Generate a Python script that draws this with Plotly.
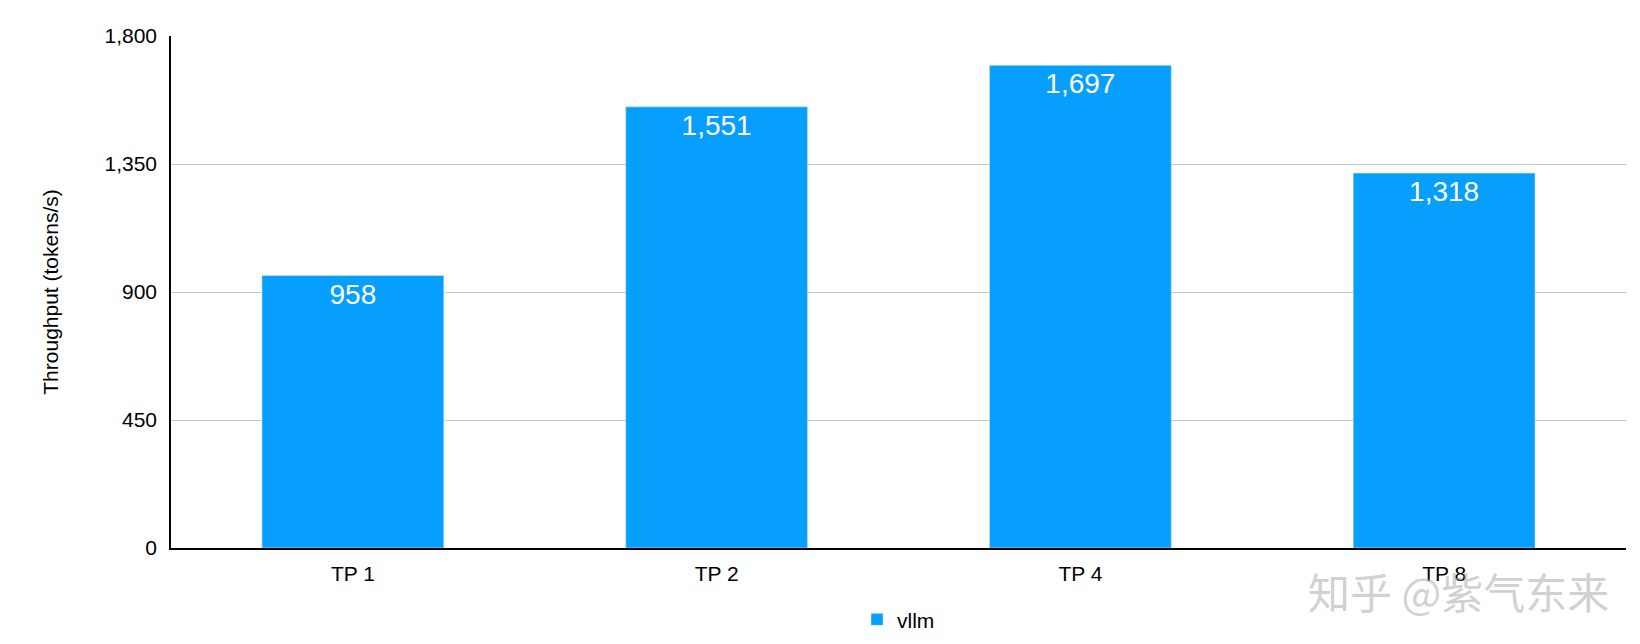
import plotly.graph_objects as go

categories = ["TP 1", "TP 2", "TP 4", "TP 8"]
values = [958, 1551, 1697, 1318]
tick_vals = [0, 450, 900, 1350, 1800]
tick_text = ["0", "450", "900", "1,350", "1,800"]

fig = go.Figure(go.Bar(
    x=categories, y=values, name="vllm", marker_color="#069FFD", width=0.5,
    text=[f"{v:,}" for v in values], textposition="inside", insidetextanchor="end",
    textfont=dict(color="white", size=28), showlegend=True,
))
fig.update_layout(
    width=1640, height=644, plot_bgcolor="white", paper_bgcolor="white",
    margin=dict(l=163, r=22, t=28, b=92),
    font=dict(family="Liberation Sans, Arial", size=21, color="black"),
    yaxis=dict(range=[0, 1800], tickvals=tick_vals, ticktext=tick_text,
               showgrid=True, gridcolor="#C8C8C8", showline=True, linecolor="black",
               linewidth=1.5, title=dict(text="Throughput (tokens/s)", font=dict(size=21), standoff=40),
               zeroline=False, ticks="outside", ticklen=8, tickcolor="white"),
    xaxis=dict(showline=True, linecolor="black", linewidth=1.5, ticks="outside", ticklen=6, tickcolor="white"),
    legend=dict(orientation="h", x=0.5, xanchor="center", y=-0.1, yanchor="top",
                font=dict(size=21)),
    annotations=[dict(text="知乎 @紫气东来", x=0.99, xref="paper", y=-0.02, yref="paper",
                      xanchor="right", yanchor="top", showarrow=False,
                      font=dict(family="Noto Sans CJK SC", size=42, color="rgba(170,170,170,0.55)"))],
)
fig.write_html("out.html")
